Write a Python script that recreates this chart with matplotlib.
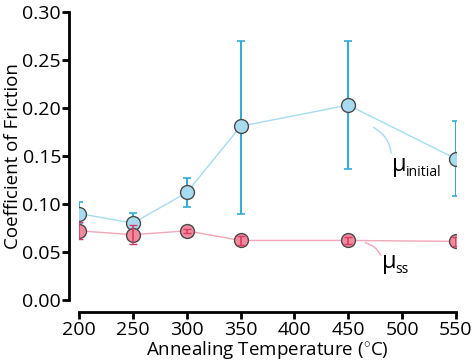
import numpy as np
import matplotlib
matplotlib.use("Agg")
import matplotlib.pyplot as plt

# datos
temp = [200, 250, 300, 350, 450, 550]
mu_ini = [0.090, 0.080, 0.112, 0.181, 0.203, 0.147]
mu_ini_lo = [0.080, 0.070, 0.097, 0.090, 0.136, 0.108]
mu_ini_hi = [0.102, 0.091, 0.127, 0.270, 0.270, 0.186]
mu_ss = [0.072, 0.068, 0.072, 0.062, 0.062, 0.061]
mu_ss_lo = [0.063, 0.058, 0.070, 0.057, 0.058, 0.056]
mu_ss_hi = [0.081, 0.078, 0.074, 0.067, 0.066, 0.066]

plt.rcParams['font.family'] = ['Open Sans', 'DejaVu Sans']
plt.rcParams['mathtext.fontset'] = 'custom'
plt.rcParams['mathtext.rm'] = 'Open Sans'
plt.rcParams['mathtext.it'] = 'Open Sans'

fig = plt.figure(figsize=(4.74, 3.64), dpi=100)
ax = fig.add_axes([0.167, 0.176, 0.795, 0.791])

err_ini = [np.array(mu_ini) - np.array(mu_ini_lo), np.array(mu_ini_hi) - np.array(mu_ini)]
err_ss = [np.array(mu_ss) - np.array(mu_ss_lo), np.array(mu_ss_hi) - np.array(mu_ss)]

ax.plot(temp, mu_ini, color="#a5dcef", lw=1.0, zorder=1)
ax.errorbar(temp, mu_ini, yerr=err_ini, fmt="none", ecolor="#35acd8", elinewidth=1.5,
            capsize=3, capthick=1.2, zorder=2)
ax.plot(temp, mu_ini, "o", ms=10, mfc="#a9dbf0", mec="#4a4a4a", mew=1.0, zorder=3)

ax.plot(temp, mu_ss, color="#f2a6b8", lw=1.0, zorder=1)
ax.plot(temp, mu_ss, "o", ms=10, mfc="#f28a9c", mec="#4a4a4a", mew=1.0, zorder=3)
ax.errorbar(temp, mu_ss, yerr=err_ss, fmt="none", ecolor="#d83d66", elinewidth=1.2,
            capsize=3, capthick=1.0, zorder=4)

# etiquetas con lineas guia
ax.annotate("", xy=(471, 0.181), xytext=(490, 0.150),
            arrowprops=dict(arrowstyle="-", color="#a5dcef", lw=1.0,
                            connectionstyle="arc3,rad=0.3"))
ax.text(491, 0.141, "μ", fontsize=17, va="center", ha="left")
ax.annotate("initial", xy=(491, 0.141), xytext=(10, -6), textcoords="offset points",
            fontsize=10, va="center", ha="left")
ax.annotate("", xy=(463, 0.060), xytext=(481, 0.044),
            arrowprops=dict(arrowstyle="-", color="#f2a6b8", lw=1.0,
                            connectionstyle="arc3,rad=0.3"))
ax.text(481, 0.040, "μ", fontsize=17, va="center", ha="left")
ax.annotate("ss", xy=(481, 0.040), xytext=(10, -6), textcoords="offset points",
            fontsize=10, va="center", ha="left")

ax.set_xlim(200, 550)
ax.set_ylim(0, 0.30)
ax.set_xticks([200, 250, 300, 350, 400, 450, 500, 550])
ax.set_yticks([0.00, 0.05, 0.10, 0.15, 0.20, 0.25, 0.30])
ax.set_yticklabels(["0.00", "0.05", "0.10", "0.15", "0.20", "0.25", "0.30"])
ax.spines["top"].set_visible(False)
ax.spines["right"].set_visible(False)
ax.spines["left"].set_position(("outward", 7))
ax.spines["bottom"].set_position(("outward", 9))
ax.spines["left"].set_linewidth(2)
ax.spines["bottom"].set_linewidth(2)
ax.tick_params(width=2, length=5, labelsize=14, pad=1)
ax.set_xlabel("Annealing Temperature ($^{\\circ}$C)", fontsize=13.5, labelpad=0)
ax.set_ylabel("Coefficient of Friction", fontsize=13.5, labelpad=0)
ax.patch.set_visible(False)

fig.savefig("out.png", dpi=100)
